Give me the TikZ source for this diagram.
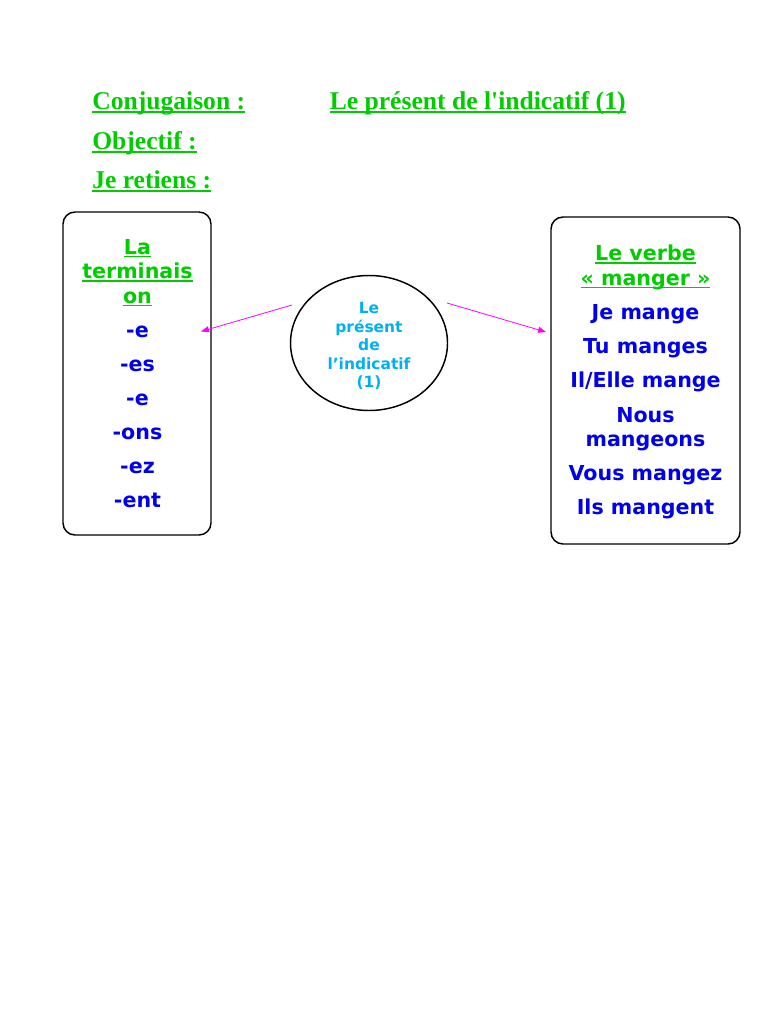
\documentclass[tikz,border=0pt]{standalone}
\usepackage{fontspec}
\usetikzlibrary{shapes.geometric,arrows.meta}
\newfontfamily\entete{Liberation Serif}
\newfontfamily\dejavu{DejaVu Sans}
\definecolor{vertvif}{RGB}{0,204,0}
\definecolor{bleuvif}{RGB}{0,0,235}
\definecolor{bleuciel}{RGB}{0,176,240}
\definecolor{rose}{RGB}{255,0,255}
\newcommand{\souligne}[1]{\setbox0=\hbox{#1}\rlap{\rule[-0.15em]{\wd0}{0.075em}}\box0}

\begin{document}
\begin{tikzpicture}[x=0.75pt,y=-0.75pt,
  entete/.style={anchor=base west,inner sep=0pt,text=vertvif,font=\entete\bfseries\fontsize{19.2}{23}\selectfont},
  titre/.style={anchor=base,inner sep=0pt,text=vertvif,font=\dejavu\bfseries\fontsize{15.45}{18.6}\selectfont},
  ligne/.style={titre,text=bleuvif},
  boite/.style={draw,line width=1.1pt,rounded corners=9pt,inner sep=0pt},
  fleche/.style={draw=rose,line width=0.6pt,-{Triangle[length=6pt,width=4.5pt]}}]
\useasboundingbox[fill=white] (0,0) rectangle (768,1024);
\node[entete] (conj) at (92,109) {\souligne{Conjugaison :}};
\node[entete] (lecon) at (329.5,109) {\souligne{Le présent de l'indicatif (1)}};
\node[entete] (obj) at (92,149) {\souligne{Objectif :}};
\node[entete] (retiens) at (92,188.5) {\souligne{Je retiens :}};
\node[boite,minimum width=111pt,minimum height=242.25pt] (gauche) at (137,373.5) {};
\node[boite,minimum width=141.75pt,minimum height=245.25pt] (droite) at (645.5,380.5) {};
\node[draw,ellipse,line width=1.1pt,inner sep=0pt,minimum width=117.75pt,minimum height=101.25pt] (centre) at (369,343) {};
\node[align=center,inner sep=0pt,text=bleuciel,font=\dejavu\bfseries\fontsize{11.6}{13.9}\selectfont] (centretexte) at (369,346) {Le\\présent\\de\\l’indicatif\\(1)};
\node[titre] (la) at (137.5,254) {\souligne{La}};
\node[titre] (termin) at (137.5,278.5) {\souligne{terminais}};
\node[titre] (on) at (137.5,303) {\souligne{on}};
\foreach \t [count=\i] in {-e,-es,-e,-ons,-ez,-ent}
  \node[ligne] (term\i) at (137.5,303.5+34*\i) {\t};
\node[titre] (verbe) at (645.5,260.5) {\souligne{Le verbe}};
\node[titre] (manger) at (645.5,285) {\souligne{« manger »}};
\node[ligne] (je) at (645.5,319.5) {Je mange};
\node[ligne] (tu) at (645.5,353.5) {Tu manges};
\node[ligne] (il) at (645.5,387.5) {Il/Elle mange};
\node[ligne] (nous) at (645.5,422) {Nous};
\node[ligne] (nous2) at (645.5,446) {mangeons};
\node[ligne] (vous) at (645.5,480) {Vous mangez};
\node[ligne] (ils) at (645.5,514) {Ils mangent};
\coordinate (dg) at (292,305);
\coordinate (fg) at (201,331.5);
\coordinate (dd) at (447,303);
\coordinate (fd) at (546,332);
\draw[fleche] (dg) -- (fg);
\draw[fleche] (dd) -- (fd);
\end{tikzpicture}
\end{document}
